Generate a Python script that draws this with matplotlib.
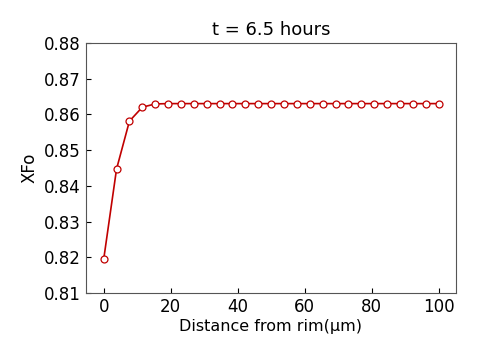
import numpy as np
import matplotlib
matplotlib.use('Agg')
import matplotlib.pyplot as plt

distance = np.linspace(0, 100, 27)
xfo = [0.8194, 0.8447, 0.8581, 0.8620, 0.8629] + [0.863] * 22

fig = plt.figure(figsize=(4.8, 3.6), dpi=100)
ax = fig.add_axes([0.179, 0.186, 0.771, 0.695])
ax.plot(distance, xfo, '-o', color='#c00000', lw=1.2,
        markerfacecolor='white', markeredgecolor='#c00000', markersize=5, markeredgewidth=0.9)
ax.set_xlim(-5.3, 105.2)
ax.set_ylim(0.81, 0.88)
ax.set_yticks(np.arange(0.81, 0.8801, 0.01))
ax.set_xticks([0, 20, 40, 60, 80, 100])
ax.tick_params(direction='in', labelsize=12)
for s in ax.spines.values():
    s.set_color('#555555')
ax.set_xlabel('Distance from rim(μm)', fontsize=11.5, labelpad=2)
ax.set_ylabel('XFo', fontsize=12)
ax.set_title('t = 6.5 hours', fontsize=13)
fig.savefig('out.png')
